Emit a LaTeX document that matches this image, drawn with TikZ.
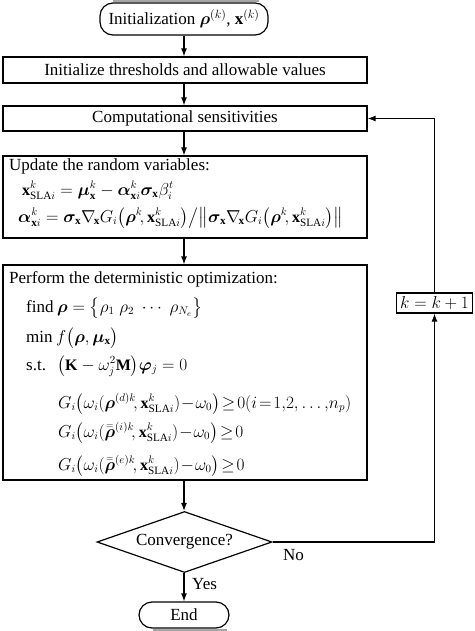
\documentclass[tikz,border=0pt]{standalone}
\usepackage{amsmath}
\usepackage{bm}
\usepackage{fontspec}
\setmainfont{Liberation Serif}
\usetikzlibrary{shapes.geometric,arrows.meta}
\tikzset{
  every node/.style={font=\fontsize{17}{20}\selectfont},
  flowbox/.style={draw, line width=1.2pt, minimum width=364pt, inner sep=0pt},
  terminal/.style={draw, line width=1.2pt, rounded corners=13pt, inner sep=0pt},
  decision/.style={draw, diamond, aspect=2.87, line width=1.2pt, minimum width=175pt, minimum height=61pt, inner sep=0pt},
  txt/.style={anchor=base west, inner sep=0pt},
  mtxt/.style={anchor=base west, inner sep=0pt, font=\fontsize{16}{19}\selectfont},
  flowarrow/.style={line width=1.2pt, -{Latex[length=8pt,width=6pt]}},
}
\begin{document}
\begin{tikzpicture}[x=1pt,y=-1pt]
\useasboundingbox (0,0) rectangle (474,631);
\fill[gray!70] (113,0) rectangle (259,2.5);
\fill[gray!70] (153,628.5) rectangle (227,631);

\node[terminal, minimum width=168pt, minimum height=32pt] (start) at (184,19) {Initialization $\bm{\rho}^{(k)}$, $\mathbf{x}^{(k)}$};
\node[flowbox, minimum height=26pt] (box2) at (185,70) {Initialize thresholds and allowable values};
\node[flowbox, minimum height=25pt] (box3) at (185,118.5) {Computational sensitivities};
\node[flowbox, minimum height=82pt] (box4) at (185,197) {};
\node[flowbox, minimum height=215pt] (box5) at (185,372.5) {};
\node[decision] (dec) at (184.5,542) {Convergence?};
\node[terminal, minimum width=90pt, minimum height=26pt] (end) at (184,615) {End};
\node[draw, line width=1.2pt, minimum width=76pt, minimum height=20pt, inner sep=0pt] (kbox) at (434.5,303) {$k = k+1$};

% box 4 content
\node[txt] (u0) at (9,171) {Update the random variables:};
\node[mtxt] (u1) at (22,195) {$\mathbf{x}^{k}_{\mathrm{SLA}i} = \bm{\mu}^{k}_{\mathbf{x}} - \bm{\alpha}^{k}_{\mathbf{x}i}\bm{\sigma}_{\mathbf{x}}\beta^{t}_{i}$};
\node[mtxt] (u2) at (18,222) {$\bm{\alpha}^{k}_{\mathbf{x}i} = \bm{\sigma}_{\mathbf{x}}\nabla_{\!\mathbf{x}}G_i\bigl(\bm{\rho}^{k}\!,\mathbf{x}^{k}_{\mathrm{SLA}i}\bigr)\big/\big\|\bm{\sigma}_{\mathbf{x}}\nabla_{\!\mathbf{x}}G_i\bigl(\bm{\rho}^{k}\!,\mathbf{x}^{k}_{\mathrm{SLA}i}\bigr)\big\|$};

% box 5 content
\node[txt] (p0) at (9,283) {Perform the deterministic optimization:};
\node[txt] (p1l) at (26,312) {find};
\node[mtxt] (p1) at (57,312) {$\bm{\rho} = \bigl\{\rho_1\;\rho_2\;\cdots\;\rho_{N_e}\bigr\}$};
\node[txt] (p2l) at (26,342) {min};
\node[mtxt] (p2) at (56,342) {$f\bigl(\bm{\rho},\bm{\mu}_{\mathbf{x}}\bigr)$};
\node[txt] (p3l) at (26,370) {s.t.};
\node[mtxt] (p3) at (57,370) {$\bigl(\mathbf{K}-\omega_j^2\mathbf{M}\bigr)\bm{\varphi}_j = 0$};
\node[mtxt] (p4) at (58,408) {$G_i\bigl(\omega_i(\bm{\rho}^{(d)k}\!,\mathbf{x}^{k}_{\mathrm{SLA}i})\!-\!\omega_0\bigr)\!\geq\! 0(i\!=\!1{,}2{,}\ldots{,}n_p)$};
\node[mtxt] (p5) at (58,437) {$G_i\bigl(\omega_i(\bar{\bar{\bm{\rho}}}^{(i)k}\!,\mathbf{x}^{k}_{\mathrm{SLA}i})\!-\!\omega_0\bigr)\!\geq\! 0$};
\node[mtxt] (p6) at (58,470) {$G_i\bigl(\omega_i(\bar{\bar{\bm{\rho}}}^{(e)k}\!,\mathbf{x}^{k}_{\mathrm{SLA}i})\!-\!\omega_0\bigr)\!\geq\! 0$};

% connectors
\draw[flowarrow] (start.south) -- (start.south |- box2.north);
\draw[flowarrow] (box2.south -| start.south) -- (box3.north -| start.south);
\draw[flowarrow] (box3.south -| start.south) -- (box4.north -| start.south);
\draw[flowarrow] (box4.south -| start.south) -- (box5.north -| start.south);
\draw[flowarrow] (box5.south -| start.south) -- (dec.north -| start.south);
\draw[flowarrow] (dec.south -| start.south) -- (end.north -| start.south);
\draw[flowarrow] (dec.east) -| (kbox.south);
\draw[flowarrow] (kbox.north) |- (box3.east);

\node[txt] (no) at (283,560) {No};
\node[txt] (yes) at (192,589) {Yes};
\end{tikzpicture}
\end{document}
